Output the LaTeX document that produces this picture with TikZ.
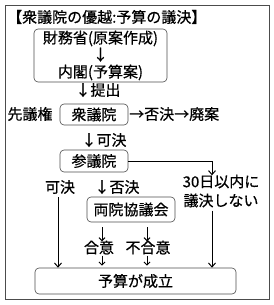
\documentclass[tikz,border=0pt]{standalone}
\usepackage{fontspec}
\setmainfont{Noto Sans CJK JP}[FakeBold=0.5]
\usetikzlibrary{arrows.meta}

\begin{document}
\begin{tikzpicture}[x=1pt, y=1pt, font=\fontsize{15}{17}\selectfont,
  box/.style={draw=black!70, rounded corners=4pt, line width=0.6pt, inner sep=0pt, align=center},
  lbl/.style={inner sep=0pt, align=center},
  arr/.style={line width=1pt, -{Straight Barb[length=4pt, width=7pt]}},
  sarr/.style={line width=1pt, -{Straight Barb[length=3pt, width=6pt]}}]
  \useasboundingbox (0,0) rectangle (273,-305);
  \draw[black!70, line width=0.8pt] (5,-5) rectangle (269,-299);
  % title and first box
  \node[lbl, anchor=west] (title) at (7,-17) {【衆議院の優越:予算の議決】};
  \node[box, minimum width=133pt, minimum height=53pt] (zaimu) at (100.5,-55.5)
    {財務省(原案作成)\\↓\\内閣(予算案)};
  \node[lbl] (teishutsu) at (98,-90) {↓提出};
  % shugiin
  \node[lbl] (senGiken) at (30,-114) {先議権};
  \node[box, minimum width=68pt, minimum height=21pt] (shu) at (94,-114.5) {衆議院};
  \node[lbl, anchor=west] (haian) at (129,-114) {→否決→廃案};
  \node[lbl] (kaketsuA) at (104,-140) {↓可決};
  % sangiin
  \node[box, minimum width=68pt, minimum height=22pt] (san) at (94,-161) {参議院};
  \node[lbl] (nashi) at (221,-191) {30日以内に\\[2pt]議決しない};
  \node[lbl] (kaketsuB) at (60,-187) {可決};
  \node[lbl] (hiketsu) at (117,-187) {↓否決};
  \node[box, minimum width=88pt, minimum height=25pt] (ryoin) at (131,-209.5) {両院協議会};
  \node[lbl] (goi) at (99,-247.5) {合意};
  \node[lbl] (fugoi) at (148,-247.5) {不合意};
  \node[box, minimum width=201pt, minimum height=26pt] (seiritsu) at (135.5,-281) {予算が成立};
  % connectors
  \draw[sarr] ([xshift=3pt]goi.north |- ryoin.south) ++(0,-5) -- ([xshift=3pt, yshift=-1pt]goi.north);
  \draw[sarr] ([xshift=3pt, yshift=-1pt]goi.south) -- ([xshift=3pt, yshift=2pt]goi.south |- seiritsu.north);
  \draw[sarr] ([xshift=-1pt]fugoi.north |- ryoin.south) ++(0,-5) -- ([xshift=-1pt, yshift=-1pt]fugoi.north);
  \draw[sarr] ([xshift=-1pt, yshift=-1pt]fugoi.south) -- ([xshift=-1pt, yshift=2pt]fugoi.south |- seiritsu.north);
  \draw[arr] (san.east) -| ([xshift=-9pt, yshift=-1pt]nashi.north);
  \draw[arr] ([xshift=-9pt, yshift=-3pt]nashi.south) -- ([xshift=-9pt]nashi.south |- seiritsu.north);
  \draw[arr] ([xshift=-2pt, yshift=-3pt]kaketsuB.south) -- ([xshift=-2pt]kaketsuB.south |- seiritsu.north);
\end{tikzpicture}
\end{document}
